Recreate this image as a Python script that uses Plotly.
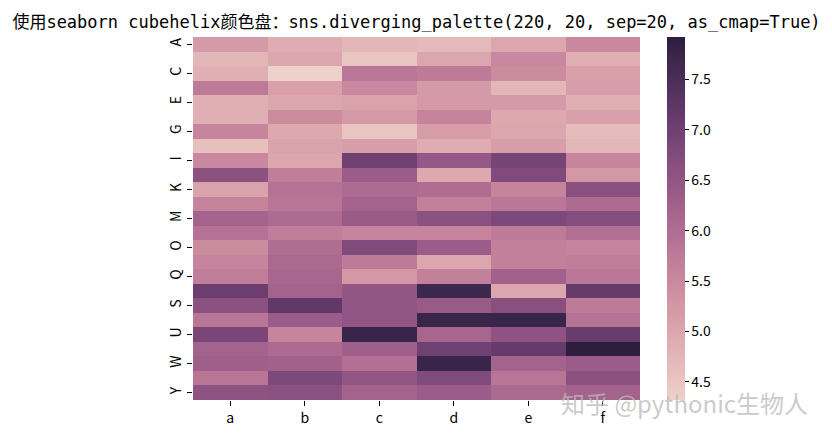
import numpy as np
import plotly.graph_objects as go

rows = list("ABCDEFGHIJKLMNOPQRSTUVWXY")
cols = ["a", "b", "c", "d", "e", "f"]

# 每一列的数值（A..Y）
col_a = [5.2, 4.75, 4.85, 5.75, 4.85, 4.85, 5.55, 4.6, 5.5, 6.6, 5.05, 5.6, 6.2,
         5.9, 5.45, 5.55, 5.7, 7.05, 6.6, 5.85, 6.85, 6.2, 6.3, 5.85, 6.55]
col_b = [4.9, 5.0, 4.32, 5.1, 5.0, 5.45, 4.95, 5.05, 5.0, 5.7, 5.9, 5.85, 6.05,
         5.7, 6.0, 6.1, 6.15, 6.2, 7.2, 6.35, 5.55, 6.05, 6.25, 6.8, 6.6]
col_c = [4.75, 4.5, 5.8, 5.5, 5.05, 5.2, 4.5, 5.15, 7.0, 6.35, 6.05, 6.2, 6.4,
         5.55, 6.75, 5.75, 5.25, 6.5, 6.5, 6.5, 7.75, 6.3, 5.95, 6.5, 6.2]
col_d = [4.7, 5.0, 5.75, 5.2, 5.2, 5.6, 5.15, 4.9, 6.45, 4.95, 6.0, 5.65, 6.6,
         5.55, 6.35, 5.0, 5.65, 7.7, 6.4, 7.75, 6.15, 7.0, 7.75, 6.75, 6.35]
col_e = [5.0, 5.5, 5.45, 4.75, 5.2, 4.95, 5.0, 5.15, 6.9, 6.75, 5.6, 5.8, 6.8,
         5.75, 5.65, 5.65, 6.25, 5.0, 6.65, 7.75, 6.55, 7.15, 6.2, 5.85, 6.1]
col_f = [5.5, 4.85, 5.1, 5.15, 4.85, 5.1, 4.65, 4.75, 5.55, 5.25, 6.65, 6.05, 6.7,
         5.95, 5.55, 5.7, 5.8, 7.15, 5.75, 5.9, 7.1, 7.92, 6.35, 6.6, 6.2]

cb_ticks = [4.5, 5.0, 5.5, 6.0, 6.5, 7.0, 7.5]


def cubehelix_scale(n=64, start=0.0, rot=0.4, gamma=1.0, hue=0.8, light=0.85, dark=0.15):
    # seaborn cubehelix_palette(as_cmap=True) 的颜色
    x = np.linspace(light, dark, n)
    xg = x ** gamma
    a = hue * xg * (1 - xg) / 2
    phi = 2 * np.pi * (start / 3 + rot * x)
    r = xg + a * (-0.14861 * np.cos(phi) + 1.78277 * np.sin(phi))
    g = xg + a * (-0.29227 * np.cos(phi) - 0.90649 * np.sin(phi))
    b = xg + a * (1.97294 * np.cos(phi))
    rgb = np.clip(np.stack([r, g, b], axis=1), 0, 1)
    return [[i / (n - 1), "rgb(%d,%d,%d)" % tuple(int(round(v * 255)) for v in c)]
            for i, c in enumerate(rgb)]


z = np.array([col_a, col_b, col_c, col_d, col_e, col_f]).T

fig = go.Figure(go.Heatmap(
    z=z,
    x=cols,
    y=rows,
    colorscale=cubehelix_scale(),
    zmin=float(z.min()),
    zmax=float(z.max()),
    colorbar=dict(
        x=1.06, xanchor="left", xpad=0,
        y=0.5, yanchor="middle", len=1.0, ypad=0,
        thickness=18,
        outlinewidth=0,
        tickvals=cb_ticks,
        ticktext=["%.1f" % t for t in cb_ticks],
        ticks="outside", ticklen=4, tickcolor="black",
        tickfont=dict(family="Noto Sans CJK SC", size=14, color="black"),
    ),
))

# 页面 body 有 8px 边距，所以整体缩小 8px
fig.update_layout(
    width=824,
    height=430,
    margin=dict(l=185, r=192, t=29, b=38),
    paper_bgcolor="white",
    plot_bgcolor="white",
    title=dict(
        text="使用seaborn cubehelix颜色盘：sns.diverging_palette(220, 20, sep=20, as_cmap=True)",
        x=0.5, xanchor="center", xref="paper",
        y=1 - 14 / 430, yanchor="middle", yref="container",
        font=dict(family="DejaVu Sans Mono, Noto Sans CJK SC", size=17, color="black"),
    ),
    xaxis=dict(
        ticks="outside", ticklen=5, tickcolor="black", showgrid=False,
        tickfont=dict(family="Noto Sans CJK SC", size=14, color="black"),
        showline=False, zeroline=False, automargin=False,
    ),
    yaxis=dict(
        autorange="reversed",
        tickmode="array", tickvals=rows[::2], ticktext=rows[::2],
        tickangle=-90,
        ticks="outside", ticklen=5, tickcolor="black", showgrid=False,
        tickfont=dict(family="Noto Sans CJK SC", size=14, color="black"),
        showline=False, zeroline=False, automargin=False,
    ),
    annotations=[dict(
        text="知乎 @pythonic生物人", xref="paper", yref="paper",
        x=1.38, y=-0.008, xanchor="right", yanchor="middle",
        showarrow=False,
        font=dict(family="Noto Sans CJK SC", size=24, color="rgba(185,185,185,0.75)"),
    )],
)

fig.write_html("out.html")
